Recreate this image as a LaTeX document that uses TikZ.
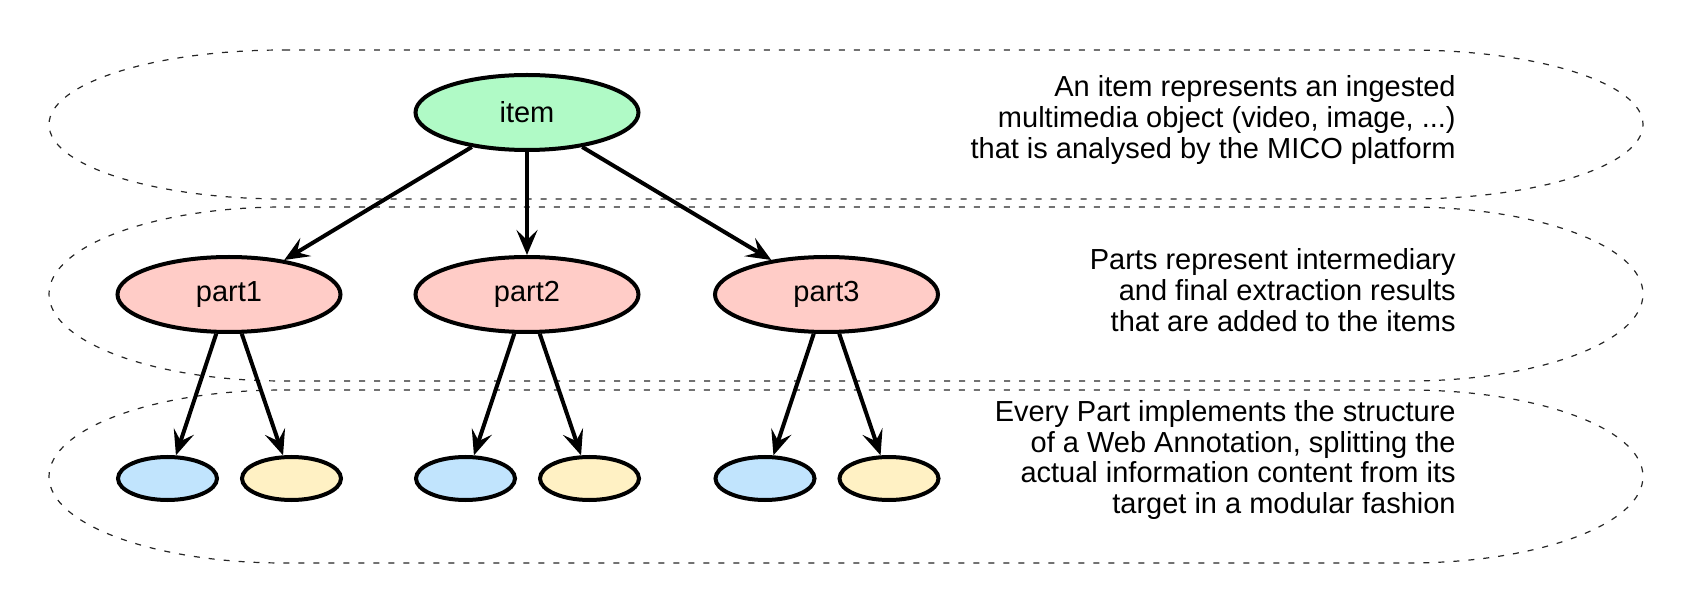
\documentclass[tikz,border=0pt]{standalone}
\usepackage{fontspec}
\setmainfont{Liberation Sans}
\usetikzlibrary{positioning, arrows.meta, shapes.geometric}

\definecolor{itemgreen}{RGB}{176,250,198}
\definecolor{partpink}{RGB}{255,204,199}
\definecolor{bodyblue}{RGB}{193,228,253}
\definecolor{targetyellow}{RGB}{255,241,196}

\begin{document}
\begin{tikzpicture}[
		>=Stealth,
		% Dotted outline of one layer
		layer/.style={draw=black!85, line width=0.024cm, dash pattern=on 0.12cm off 0.18cm},
		% Item and part ellipses
		objnode/.style={
				ellipse, draw=black, line width=0.08cm, fill=#1,
				minimum width=4.46cm, minimum height=1.5cm,
				font=\fontsize{16.5}{17.6}\selectfont
			},
		% Annotation body / target ellipses
		subnode/.style={
				ellipse, draw=black, line width=0.08cm, fill=#1,
				minimum width=1.98cm, minimum height=0.86cm
			},
		% Explanations on the right
		note/.style={anchor=east, align=right, inner sep=0pt, font=\fontsize{16.5}{17.6}\selectfont},
		% Arrows
		link/.style={-{Stealth[length=0.5cm, width=0.42cm, inset=0.2cm]}, line width=0.08cm}
	]

	\useasboundingbox (0,0) rectangle (33.74,-12.16);

	% ==========================================
	% 1. LAYERS (DOTTED)
	% ==========================================
	% Flat top and bottom, elliptic ends (x radius 4.7cm)
	\draw[layer] (5.68,-1.00) -- (28.16,-1.00)
		arc[start angle=90, end angle=-90, x radius=4.7cm, y radius=1.49cm]
		-- (5.68,-3.98)
		arc[start angle=270, end angle=90, x radius=4.7cm, y radius=1.49cm] -- cycle;
	\draw[layer] (5.68,-4.14) -- (28.16,-4.14)
		arc[start angle=90, end angle=-90, x radius=4.7cm, y radius=1.74cm]
		-- (5.68,-7.62)
		arc[start angle=270, end angle=90, x radius=4.7cm, y radius=1.74cm] -- cycle;
	\draw[layer] (5.68,-7.80) -- (28.16,-7.80)
		arc[start angle=90, end angle=-90, x radius=4.7cm, y radius=1.73cm]
		-- (5.68,-11.26)
		arc[start angle=270, end angle=90, x radius=4.7cm, y radius=1.73cm] -- cycle;

	% ==========================================
	% 2. ITEM AND PARTS
	% ==========================================
	\node[objnode=itemgreen] (item) at (10.54,-2.25) {item};

	\node[objnode=partpink] (part1) at (4.58,-5.89) {part1};
	\node[objnode=partpink] (part2) at (10.54,-5.89) {part2};
	\node[objnode=partpink] (part3) at (16.53,-5.89) {part3};

	% ==========================================
	% 3. BODY / TARGET OF EACH PART
	% ==========================================
	\node[subnode=bodyblue] (body1) at ([xshift=-1.23cm, yshift=-3.68cm]part1.center) {};
	\node[subnode=targetyellow] (target1) at ([xshift=1.25cm, yshift=-3.68cm]part1.center) {};

	\node[subnode=bodyblue] (body2) at ([xshift=-1.23cm, yshift=-3.68cm]part2.center) {};
	\node[subnode=targetyellow] (target2) at ([xshift=1.25cm, yshift=-3.68cm]part2.center) {};

	\node[subnode=bodyblue] (body3) at ([xshift=-1.23cm, yshift=-3.68cm]part3.center) {};
	\node[subnode=targetyellow] (target3) at ([xshift=1.25cm, yshift=-3.68cm]part3.center) {};

	% ==========================================
	% 4. NOTES (RIGHT)
	% ==========================================
	\node[note] (noteitem) at (29.12,-2.40) {An item represents an ingested\\multimedia object (video, image, ...)\\that is analysed by the MICO platform};
	\node[note] (notepart) at (29.12,-5.80) {Parts represent intermediary\\and final extraction results\\that are added to the items};
	\node[note] (noteanno) at (29.12,-9.20) {Every Part implements the structure\\of a Web Annotation, splitting the\\actual information content from its\\target in a modular fashion};

	% ==========================================
	% 5. ARROWS
	% ==========================================
	% Item to parts
	\draw[link] (item.212) -- (part1.32);
	\draw[link] (item.south) -- (part2.north);
	\draw[link] (item.-32) -- (part3.148);

	% Parts to body and target
	\draw[link] (part1.-108) -- (body1.70);
	\draw[link] (part1.-72) -- (target1.110);
	\draw[link] (part2.-108) -- (body2.70);
	\draw[link] (part2.-72) -- (target2.110);
	\draw[link] (part3.-108) -- (body3.70);
	\draw[link] (part3.-72) -- (target3.110);

\end{tikzpicture}
\end{document}
